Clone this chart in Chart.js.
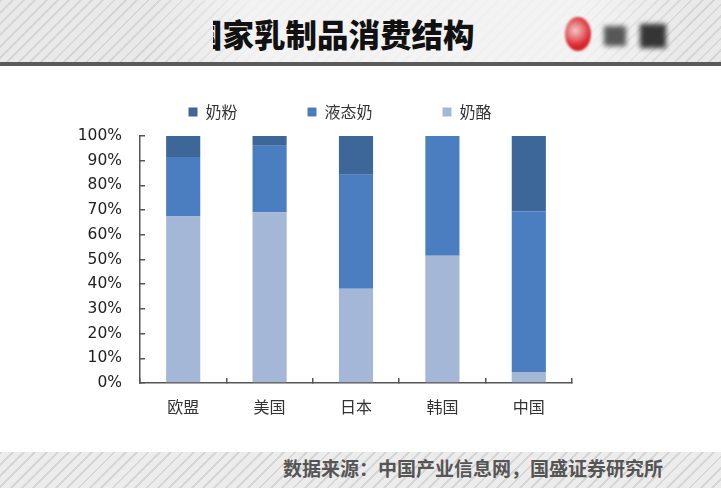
<!DOCTYPE html>
<html><head><meta charset="utf-8">
<script src="https://cdn.jsdelivr.net/npm/chart.js@4"></script>
<style>
html,body{margin:0;padding:0;width:721px;height:488px;overflow:hidden;background:#fff;font-family:"Noto Sans CJK SC",sans-serif;}
#header{position:absolute;left:0;top:0;width:721px;height:62px;background:repeating-linear-gradient(135deg,#d6d6d6 0 2px,#e9e9e9 2px 8px);}
#hlight{position:absolute;left:150px;top:0;width:540px;height:62px;background:linear-gradient(90deg,rgba(245,245,245,0),rgba(245,245,245,0.85) 20%,rgba(245,245,245,0.85) 80%,rgba(245,245,245,0));}
#hline{position:absolute;left:0;top:62px;width:721px;height:4px;background:#5a5a5a;}
#titleclip{position:absolute;left:213px;top:10px;width:280px;height:46px;overflow:hidden;}
#title{position:absolute;left:-22px;top:0;font-size:31.5px;font-weight:900;color:#111;white-space:nowrap;line-height:46px;}
#logo{position:absolute;left:565px;top:17px;width:26px;height:34px;border-radius:50%;background:radial-gradient(circle at 40% 40%,#f4c8c8,#d9262b 60%,#c81e22);filter:blur(1.2px);}
#logo2{position:absolute;left:604px;top:26px;width:22px;height:20px;background:#333;filter:blur(2.5px);opacity:0.8;}
#logo3{position:absolute;left:640px;top:24px;width:26px;height:24px;background:#222;filter:blur(2.5px);opacity:0.9;}
#footer{position:absolute;left:0;top:452px;width:721px;height:36px;background:repeating-linear-gradient(135deg,#d6d6d6 0 2px,#ececec 2px 8px);}
#source{position:absolute;left:283px;top:455px;font-size:19px;font-weight:700;color:#555;white-space:nowrap;line-height:26px;}
canvas{position:absolute;left:0;top:0;}
</style>
</head><body>
<div id="header"></div><div id="hlight"></div><div id="hline"></div>
<div id="titleclip"><div id="title">国家乳制品消费结构</div></div>
<div id="logo"></div><div id="logo2"></div><div id="logo3"></div>
<div id="footer"></div>
<div id="source">数据来源：中国产业信息网，国盛证券研究所</div>
<canvas id="c" width="721" height="488"></canvas>
<script>
const categories = ['欧盟','美国','日本','韩国','中国'];
const seriesNames = ['奶酪','液态奶','奶粉'];
const cheese = [67.4, 69.1, 38.2, 51.5, 4.5];
const liquid = [24.1, 27.0, 46.1, 48.5, 65.0];
const powder = [8.5, 3.9, 15.7, 0, 30.5];
const colors = ['#a5b7d7','#4b7ec0','#3d6699'];

const legendHeight = {
  id:'legendHeight',
  afterInit(chart){
    const lg = chart.legend;
    const orig = lg.fit.bind(lg);
    lg.fit = function(){ orig(); this.height = 102; };
  }
};

new Chart(document.getElementById('c'), {
  type:'bar',
  data:{
    labels:categories,
    datasets:[
      {label:seriesNames[0], data:cheese, backgroundColor:colors[0]},
      {label:seriesNames[1], data:liquid, backgroundColor:colors[1]},
      {label:seriesNames[2], data:powder, backgroundColor:colors[2]}
    ]
  },
  options:{
    responsive:false, animation:false, devicePixelRatio:1,
    datasets:{bar:{barPercentage:0.395, categoryPercentage:1, borderWidth:0}},
    layout:{padding:{top:34,right:41,left:0,bottom:0}},
    plugins:{
      legend:{position:'top', reverse:true,
        labels:{boxWidth:9, boxHeight:9, padding:70, color:'#333',
          font:{family:'"Noto Sans CJK SC"', size:16}}},
      tooltip:{enabled:false}
    },
    scales:{
      x:{stacked:true,
        grid:{display:true, drawOnChartArea:false, tickLength:-5, color:'#555', lineWidth:1.5, offset:true},
        border:{color:'#555', width:1.5},
        ticks:{padding:19, color:'#333', font:{family:'"Noto Sans CJK SC"', size:16}},
        afterFit(s){ s.height = 105; }
      },
      y:{stacked:true, min:0, max:100,
        ticks:{stepSize:10, padding:23, color:'#222', callback:v=>v+'%', font:{family:'"DejaVu Sans"', size:15.5}},
        grid:{drawOnChartArea:false, tickLength:-5, color:'#555', lineWidth:1.5},
        border:{color:'#555', width:1.5},
        afterFit(s){ s.width = 140; }
      },
      y2:{position:'right', display:true, grid:{display:false}, ticks:{display:false}, border:{display:false},
        afterFit(s){ s.width = 108; }
      }
    }
  },
  plugins:[legendHeight]
});
</script>
</body></html>
